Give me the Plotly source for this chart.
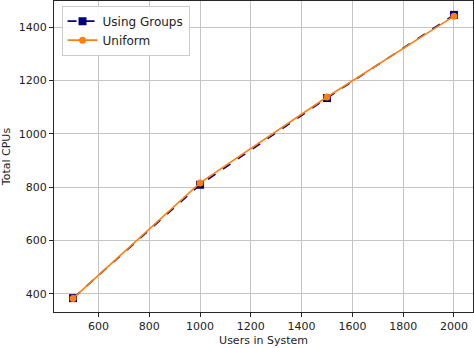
import plotly.graph_objects as go

users = [500, 1000, 1500, 2000]
cpus_groups = [384, 809, 1134, 1446]
cpus_uniform = [383, 816, 1138, 1441]
x_ticks = [600, 800, 1000, 1200, 1400, 1600, 1800, 2000]
y_ticks = [400, 600, 800, 1000, 1200, 1400]

font = "DejaVu Sans"
fig = go.Figure()
fig.add_trace(go.Scatter(
    x=users, y=cpus_groups, name="Using Groups", mode="lines+markers",
    line=dict(color="#000080", width=1.6, dash="dash"),
    marker=dict(symbol="square", size=8, color="#000080"),
))
fig.add_trace(go.Scatter(
    x=users, y=cpus_uniform, name="Uniform", mode="lines+markers",
    line=dict(color="#ff7f0e", width=1.6),
    marker=dict(symbol="circle", size=7, color="#ff7f0e"),
))

axis_common = dict(
    showline=True, linecolor="#262626", linewidth=1.2, mirror=True,
    ticks="outside", ticklen=4, tickcolor="#262626", tickwidth=1,
    showgrid=True, gridcolor="#c4c4c4", gridwidth=1,
    zeroline=False, tickfont=dict(family=font, size=11, color="#222"),
)
fig.update_xaxes(range=[425, 2075], tickvals=x_ticks,
                 title=dict(text="Users in System", font=dict(family=font, size=11, color="#222"), standoff=4),
                 **axis_common)
fig.update_yaxes(range=[332, 1498], tickvals=y_ticks,
                 title=dict(text="Total CPUs", font=dict(family=font, size=11, color="#222"), standoff=6),
                 **axis_common)

fig.update_layout(
    width=474, height=348,
    margin=dict(l=54, r=1, t=1, b=36),
    plot_bgcolor="white", paper_bgcolor="white",
    font=dict(family=font, size=11, color="#222"),
    legend=dict(x=0.018, y=0.985, xanchor="left", yanchor="top",
                bgcolor="rgba(255,255,255,0.9)", bordercolor="#cccccc", borderwidth=1,
                font=dict(family=font, size=12, color="#222"), tracegroupgap=0,
                itemwidth=30),
    showlegend=True,
)
fig.write_html("out.html")
